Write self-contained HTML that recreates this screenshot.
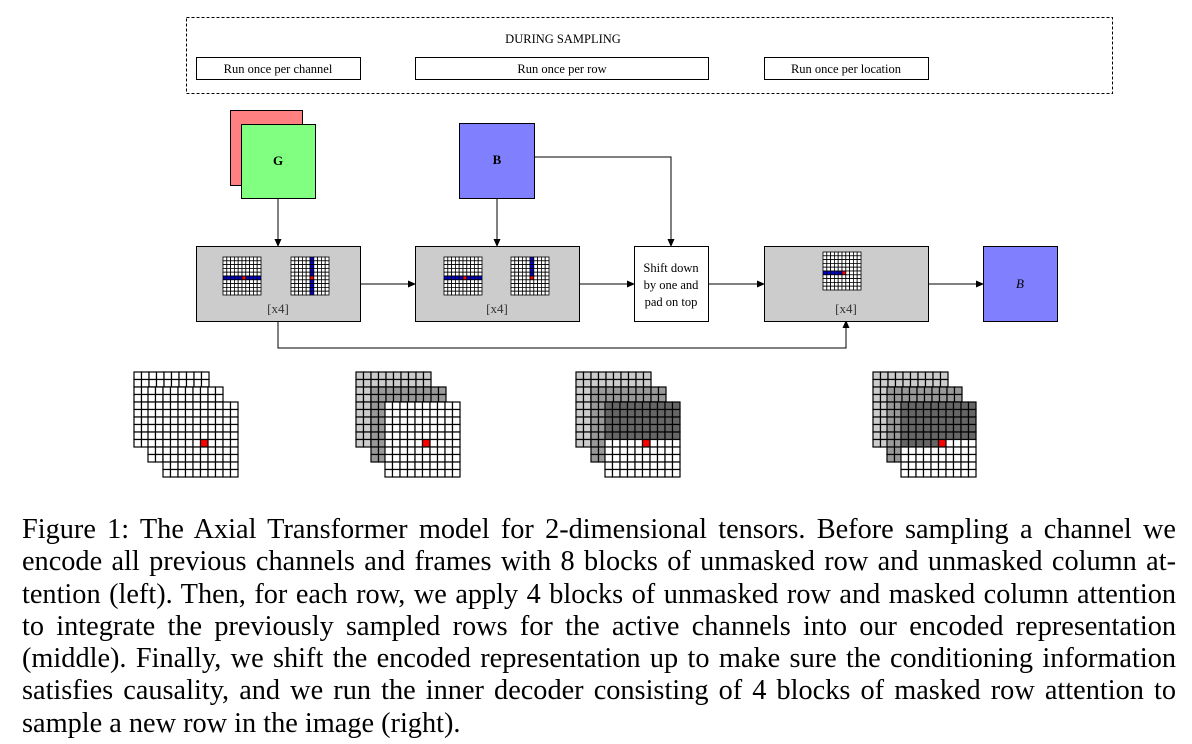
<!DOCTYPE html>
<html><head><meta charset="utf-8"><style>
body{margin:0;width:1192px;height:744px;background:#fff;overflow:hidden;position:relative;font-family:"Liberation Serif",serif}
svg{position:absolute;left:0;top:0}
#cap{position:absolute;left:22px;top:514px;width:1154px;font-size:28.3px;line-height:32.3px;color:#000;word-spacing:-3px}
#cap div{text-align:justify;text-align-last:justify;white-space:nowrap;height:32.3px}
#cap div.l{text-align-last:left;word-spacing:0}
</style></head><body>
<svg id="s" width="1192" height="744" xmlns="http://www.w3.org/2000/svg" font-family="Liberation Serif, serif">
<defs><marker id="a" markerWidth="8" markerHeight="8" refX="7" refY="4" orient="auto" markerUnits="userSpaceOnUse"><path d="M0,0.5 L8,4 L0,7.5z" fill="#000"/></marker></defs>
<rect x="186.5" y="17.5" width="926" height="76" fill="none" stroke="#000" stroke-dasharray="3,2"/>
<text x="563" y="43" font-size="12.5" text-anchor="middle">DURING SAMPLING</text>
<rect x="196.5" y="57.5" width="164" height="22" fill="#fff" stroke="#000"/><text x="278" y="73" font-size="12.5" text-anchor="middle">Run once per channel</text>
<rect x="415.5" y="57.5" width="293" height="22" fill="#fff" stroke="#000"/><text x="562" y="73" font-size="12.5" text-anchor="middle">Run once per row</text>
<rect x="764.5" y="57.5" width="164" height="22" fill="#fff" stroke="#000"/><text x="846" y="73" font-size="12.5" text-anchor="middle">Run once per location</text>
<rect x="230.5" y="110.5" width="72" height="75" fill="#ff8080" stroke="#000"/>
<rect x="241.5" y="124.5" width="74" height="74" fill="#80ff80" stroke="#000"/>
<text x="278" y="165" font-size="13" font-weight="bold" text-anchor="middle">G</text>
<rect x="459.5" y="123.5" width="75" height="75" fill="#8080ff" stroke="#000"/>
<text x="497" y="164" font-size="13" font-weight="bold" text-anchor="middle">B</text>
<g stroke="#000" fill="none">
<line x1="278" y1="199" x2="278" y2="246" marker-end="url(#a)"/>
<line x1="497" y1="199" x2="497" y2="246" marker-end="url(#a)"/>
<polyline points="534,157 671,157 671,246" marker-end="url(#a)"/>
<line x1="360" y1="284" x2="415" y2="284" marker-end="url(#a)"/>
<line x1="579" y1="284" x2="634" y2="284" marker-end="url(#a)"/>
<line x1="708" y1="284" x2="764" y2="284" marker-end="url(#a)"/>
<line x1="928" y1="284" x2="983" y2="284" marker-end="url(#a)"/>
<polyline points="278,321 278,348 846,348 846,321" marker-end="url(#a)"/>
</g>
<rect x="196.5" y="246.5" width="164" height="75" fill="#cccccc" stroke="#000"/>
<rect x="415.5" y="246.5" width="164" height="75" fill="#cccccc" stroke="#000"/>
<rect x="634.5" y="246.5" width="74" height="75" fill="#fff" stroke="#000"/>
<rect x="764.5" y="246.5" width="164" height="75" fill="#cccccc" stroke="#000"/>
<rect x="983.5" y="246.5" width="74" height="75" fill="#8080ff" stroke="#000"/>
<text x="1020" y="288" font-size="13" font-style="italic" text-anchor="middle">B</text>
<text x="278" y="313" font-size="13" text-anchor="middle" fill="#333">[x4]</text>
<text x="497" y="313" font-size="13" text-anchor="middle" fill="#333">[x4]</text>
<text x="846" y="313" font-size="13" text-anchor="middle" fill="#333">[x4]</text>
<text font-size="12.5" text-anchor="middle"><tspan x="671" y="272">Shift down</tspan><tspan x="671" y="289">by one and</tspan><tspan x="671" y="306">pad on top</tspan></text>
<g id="g"></g>
</svg>
<div id="cap">
<div>Figure 1: The Axial Transformer model for 2-dimensional tensors. Before sampling a channel we</div>
<div>encode all previous channels and frames with 8 blocks of unmasked row and unmasked column at-</div>
<div>tention (left). Then, for each row, we apply 4 blocks of unmasked row and masked column attention</div>
<div>to integrate the previously sampled rows for the active channels into our encoded representation</div>
<div>(middle). Finally, we shift the encoded representation up to make sure the conditioning information</div>
<div>satisfies causality, and we run the inner decoder consisting of 4 blocks of masked row attention to</div>
<div class="l">sample a new row in the image (right).</div>
</div>
<script>
var h='';
function grid(x,y,cs,f,sw){for(var r=0;r<10;r++)for(var c=0;c<10;c++){h+='<rect x="'+(x+c*cs)+'" y="'+(y+r*cs)+'" width="'+cs+'" height="'+cs+'" fill="'+f(r,c)+'" stroke="#000" stroke-width="'+sw+'"/>';}}
var cs=7.5;
var gx=[[134,148,163],[356,371,385],[576,591,605],[873,887,901]],gy=[372,387,402];
for(var k=0;k<4;k++){for(var l=0;l<3;l++){(function(k,l){grid(gx[k][l],gy[l],cs,function(r,c){
 if(l==2&&r==5&&c==5)return '#f00';
 if(k==0)return '#fff';
 if(l==0)return '#ccc';
 if(l==1)return '#999';
 if(k==1)return '#fff';
 if(r<5)return '#666';
 if(k==3&&r==5&&c<5)return '#666';
 return '#fff';},1.2);})(k,l);}}
var m=3.8;
function mini(x,y,type){grid(x,y,m,function(r,c){
 if(r==5&&c==5)return '#f00';
 if(type==0&&r==5)return '#00c';
 if(type==1&&c==5)return '#00c';
 if(type==2&&c==5&&r<5)return '#00c';
 if(type==3&&r==5&&c<5)return '#00c';
 return '#fff';},0.8);}
mini(223,257,0);mini(291,257,1);mini(444,257,0);mini(511,257,2);mini(823,252,3);
document.getElementById('g').innerHTML=h;
</script>
</body></html>
